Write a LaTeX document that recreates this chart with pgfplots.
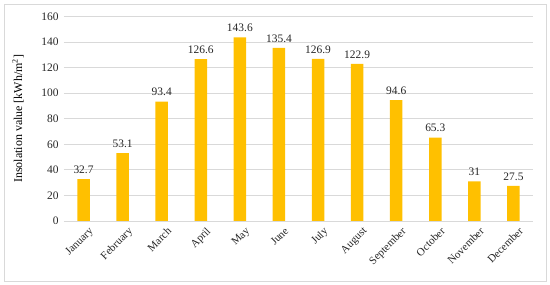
\documentclass[border=0pt]{standalone}
\usepackage{fontspec}
\setmainfont{Liberation Serif}
\usepackage{pgfplots}
\pgfplotsset{compat=1.18}
\definecolor{bar}{HTML}{FFC000}
\definecolor{gridc}{HTML}{D9D9D9}
\definecolor{frame}{HTML}{D9D9D9}
\begin{document}
\begin{tikzpicture}[x=1bp,y=1bp]
\path (-64bp,-64bp) rectangle (486bp,221bp);
\draw[frame, line width=0.8bp] (-60bp,-60bp) rectangle (482bp,217bp);
\begin{axis}[
  at={(0,0)}, anchor=south west,
  scale only axis,
  width=469bp, height=204.5bp,
  xmin=-0.5, xmax=11.5,
  ymin=0, ymax=160,
  ytick={0,20,...,160},
  xtick={0,...,11},
  xticklabels={January,February,March,April,May,June,July,August,September,October,November,December},
  x tick label style={rotate=45, anchor=north east, font=\fontsize{11}{12}\selectfont, xshift=3bp, yshift=-4bp},
  y tick label style={font=\fontsize{11.5}{12}\selectfont, xshift=-2bp},
  /pgf/number format/assume math mode=true,
  ymajorgrids,
  grid style={gridc, line width=0.8bp},
  axis line style={draw=none},
  major tick length=0pt,
  ylabel={Insolation value [kWh/m\textsuperscript{2}]},
  ylabel style={font=\fontsize{12}{13}\selectfont, at={(axis description cs:0,0.5)}, anchor=center, yshift=46bp},
  ybar, bar width=12.5bp,
  nodes near coords,
  every node near coord/.append style={font=\fontsize{11.5}{12}\selectfont, black!85, yshift=2bp},
  tick label style={black!85},
  clip=false,
]
\addplot[fill=bar, draw=none] coordinates {
(0,32.7) (1,53.1) (2,93.4) (3,126.6) (4,143.6) (5,135.4)
(6,126.9) (7,122.9) (8,94.6) (9,65.3) (10,31) (11,27.5)};
\draw[gridc, line width=0.8bp] (axis cs:-0.5,0) -- (axis cs:11.5,0);
\end{axis}
\end{tikzpicture}
\end{document}
